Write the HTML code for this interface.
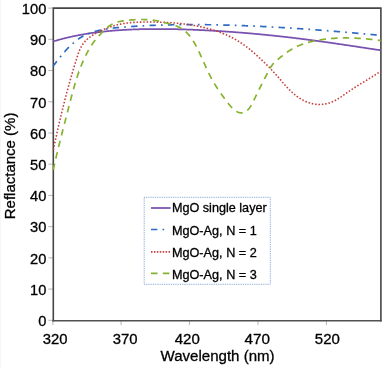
<!DOCTYPE html>
<html lang="en"><head><meta charset="utf-8"><title>Reflectance vs wavelength</title>
<style>
html,body{margin:0;padding:0;background:#fff;}
svg{display:block;font-family:"Liberation Sans", Arial, Helvetica, sans-serif;}
text{fill:#000;stroke:#000;stroke-width:0.3px;}
</style></head><body>
<svg width="382" height="367" viewBox="0 0 382 367">
<rect x="0" y="0" width="382" height="367" fill="#fff"/>

<line x1="0.3" y1="0" x2="0.3" y2="367" stroke="#ececec" stroke-width="0.6"/>
<line x1="48.3" y1="320.30" x2="53.3" y2="320.30" stroke="#a6a6a6" stroke-width="0.8"/>
<line x1="48.3" y1="289.08" x2="53.3" y2="289.08" stroke="#a6a6a6" stroke-width="0.8"/>
<line x1="48.3" y1="257.86" x2="53.3" y2="257.86" stroke="#a6a6a6" stroke-width="0.8"/>
<line x1="48.3" y1="226.64" x2="53.3" y2="226.64" stroke="#a6a6a6" stroke-width="0.8"/>
<line x1="48.3" y1="195.42" x2="53.3" y2="195.42" stroke="#a6a6a6" stroke-width="0.8"/>
<line x1="48.3" y1="164.20" x2="53.3" y2="164.20" stroke="#a6a6a6" stroke-width="0.8"/>
<line x1="48.3" y1="132.98" x2="53.3" y2="132.98" stroke="#a6a6a6" stroke-width="0.8"/>
<line x1="48.3" y1="101.76" x2="53.3" y2="101.76" stroke="#a6a6a6" stroke-width="0.8"/>
<line x1="48.3" y1="70.54" x2="53.3" y2="70.54" stroke="#a6a6a6" stroke-width="0.8"/>
<line x1="48.3" y1="39.32" x2="53.3" y2="39.32" stroke="#a6a6a6" stroke-width="0.8"/>
<line x1="48.3" y1="8.10" x2="53.3" y2="8.10" stroke="#a6a6a6" stroke-width="0.8"/>
<line x1="52.8" y1="320.3" x2="52.8" y2="325.10" stroke="#a6a6a6" stroke-width="0.8"/>
<line x1="121.1" y1="320.3" x2="121.1" y2="325.10" stroke="#a6a6a6" stroke-width="0.8"/>
<line x1="189.45" y1="320.3" x2="189.45" y2="325.10" stroke="#a6a6a6" stroke-width="0.8"/>
<line x1="258.0" y1="320.3" x2="258.0" y2="325.10" stroke="#a6a6a6" stroke-width="0.8"/>
<line x1="326.4" y1="320.3" x2="326.4" y2="325.10" stroke="#a6a6a6" stroke-width="0.8"/>
<path d="M53.3,321.55 V8.1 H380.9 V321.55" fill="none" stroke="#454545" stroke-width="1.6" stroke-linejoin="miter"/>
<line x1="52.5" y1="320.75" x2="381.7" y2="320.75" stroke="#505050" stroke-width="1.6"/>
<clipPath id="pc"><rect x="52.4" y="7.1" width="329.4" height="314.2"/></clipPath>
<g clip-path="url(#pc)" fill="none">
<path d="M53.30,41.43 L54.05,41.20 L54.79,40.98 L55.54,40.76 L56.28,40.54 L57.03,40.32 L57.78,40.11 L58.52,39.90 L59.27,39.69 L60.02,39.49 L60.76,39.28 L61.51,39.08 L62.25,38.89 L63.00,38.69 L63.75,38.50 L64.49,38.31 L65.24,38.13 L65.99,37.95 L66.73,37.76 L67.48,37.59 L68.22,37.41 L68.97,37.24 L69.72,37.07 L70.46,36.90 L71.21,36.73 L71.96,36.57 L72.70,36.41 L73.45,36.25 L74.19,36.09 L74.94,35.94 L75.69,35.79 L76.43,35.64 L77.18,35.49 L77.93,35.35 L78.67,35.20 L79.42,35.06 L80.16,34.92 L80.91,34.79 L81.66,34.65 L82.40,34.52 L83.15,34.39 L83.90,34.26 L84.64,34.14 L85.39,34.01 L86.13,33.89 L86.88,33.77 L87.63,33.65 L88.37,33.54 L89.12,33.42 L89.87,33.31 L90.61,33.20 L91.36,33.09 L92.10,32.99 L92.85,32.88 L93.60,32.78 L94.34,32.68 L95.09,32.58 L95.84,32.48 L96.58,32.38 L97.33,32.29 L98.07,32.20 L98.82,32.11 L99.57,32.02 L100.31,31.93 L101.06,31.84 L101.81,31.76 L102.55,31.67 L103.30,31.59 L104.04,31.51 L104.79,31.44 L105.54,31.36 L106.28,31.28 L107.03,31.21 L107.78,31.14 L108.52,31.07 L109.27,31.00 L110.01,30.93 L110.76,30.86 L111.51,30.80 L112.25,30.74 L113.00,30.67 L113.75,30.61 L114.49,30.55 L115.24,30.49 L115.98,30.44 L116.73,30.38 L117.48,30.33 L118.22,30.28 L118.97,30.22 L119.72,30.17 L120.46,30.12 L121.21,30.08 L121.95,30.03 L122.70,29.98 L123.45,29.94 L124.19,29.90 L124.94,29.85 L125.69,29.81 L126.43,29.77 L127.18,29.74 L127.92,29.70 L128.67,29.66 L129.42,29.63 L130.16,29.59 L130.91,29.56 L131.66,29.53 L132.40,29.50 L133.15,29.47 L133.89,29.44 L134.64,29.41 L135.39,29.38 L136.13,29.36 L136.88,29.33 L137.63,29.31 L138.37,29.29 L139.12,29.27 L139.86,29.24 L140.61,29.22 L141.36,29.21 L142.10,29.19 L142.85,29.17 L143.60,29.15 L144.34,29.14 L145.09,29.12 L145.83,29.11 L146.58,29.10 L147.33,29.09 L148.07,29.08 L148.82,29.07 L149.57,29.06 L150.31,29.05 L151.06,29.04 L151.80,29.03 L152.55,29.03 L153.30,29.02 L154.04,29.02 L154.79,29.02 L155.54,29.01 L156.28,29.01 L157.03,29.01 L157.77,29.01 L158.52,29.01 L159.27,29.01 L160.01,29.01 L160.76,29.01 L161.51,29.02 L162.25,29.02 L163.00,29.03 L163.74,29.03 L164.49,29.04 L165.24,29.04 L165.98,29.05 L166.73,29.06 L167.47,29.07 L168.22,29.08 L168.97,29.09 L169.71,29.10 L170.46,29.11 L171.21,29.12 L171.95,29.14 L172.70,29.15 L173.44,29.16 L174.19,29.18 L174.94,29.19 L175.68,29.21 L176.43,29.23 L177.18,29.24 L177.92,29.26 L178.67,29.28 L179.41,29.30 L180.16,29.32 L180.91,29.34 L181.65,29.36 L182.40,29.38 L183.15,29.40 L183.89,29.42 L184.64,29.45 L185.38,29.47 L186.13,29.50 L186.88,29.52 L187.62,29.55 L188.37,29.57 L189.12,29.60 L189.86,29.63 L190.61,29.65 L191.35,29.68 L192.10,29.71 L192.85,29.74 L193.59,29.77 L194.34,29.80 L195.09,29.83 L195.83,29.86 L196.58,29.89 L197.32,29.92 L198.07,29.96 L198.82,29.99 L199.56,30.02 L200.31,30.06 L201.06,30.09 L201.80,30.13 L202.55,30.16 L203.29,30.20 L204.04,30.24 L204.79,30.28 L205.53,30.31 L206.28,30.35 L207.03,30.39 L207.77,30.43 L208.52,30.47 L209.26,30.51 L210.01,30.55 L210.76,30.59 L211.50,30.63 L212.25,30.67 L213.00,30.72 L213.74,30.76 L214.49,30.80 L215.23,30.85 L215.98,30.89 L216.73,30.94 L217.47,30.98 L218.22,31.03 L218.97,31.07 L219.71,31.12 L220.46,31.17 L221.20,31.22 L221.95,31.26 L222.70,31.31 L223.44,31.36 L224.19,31.41 L224.94,31.46 L225.68,31.51 L226.43,31.56 L227.17,31.61 L227.92,31.67 L228.67,31.72 L229.41,31.77 L230.16,31.82 L230.91,31.88 L231.65,31.93 L232.40,31.99 L233.14,32.04 L233.89,32.10 L234.64,32.15 L235.38,32.21 L236.13,32.26 L236.88,32.32 L237.62,32.38 L238.37,32.44 L239.11,32.50 L239.86,32.55 L240.61,32.61 L241.35,32.67 L242.10,32.73 L242.85,32.79 L243.59,32.86 L244.34,32.92 L245.08,32.98 L245.83,33.04 L246.58,33.10 L247.32,33.17 L248.07,33.23 L248.82,33.29 L249.56,33.36 L250.31,33.42 L251.05,33.49 L251.80,33.55 L252.55,33.62 L253.29,33.69 L254.04,33.75 L254.79,33.82 L255.53,33.89 L256.28,33.96 L257.02,34.03 L257.77,34.10 L258.52,34.17 L259.26,34.24 L260.01,34.31 L260.76,34.38 L261.50,34.45 L262.25,34.52 L262.99,34.59 L263.74,34.67 L264.49,34.74 L265.23,34.81 L265.98,34.89 L266.73,34.96 L267.47,35.03 L268.22,35.11 L268.96,35.19 L269.71,35.26 L270.46,35.34 L271.20,35.41 L271.95,35.49 L272.69,35.57 L273.44,35.65 L274.19,35.73 L274.93,35.80 L275.68,35.88 L276.43,35.96 L277.17,36.04 L277.92,36.12 L278.66,36.21 L279.41,36.29 L280.16,36.37 L280.90,36.45 L281.65,36.53 L282.40,36.62 L283.14,36.70 L283.89,36.78 L284.63,36.87 L285.38,36.95 L286.13,37.04 L286.87,37.12 L287.62,37.21 L288.37,37.30 L289.11,37.38 L289.86,37.47 L290.60,37.56 L291.35,37.65 L292.10,37.73 L292.84,37.82 L293.59,37.91 L294.34,38.00 L295.08,38.09 L295.83,38.18 L296.57,38.27 L297.32,38.36 L298.07,38.46 L298.81,38.55 L299.56,38.64 L300.31,38.73 L301.05,38.83 L301.80,38.92 L302.54,39.01 L303.29,39.11 L304.04,39.20 L304.78,39.30 L305.53,39.39 L306.28,39.49 L307.02,39.59 L307.77,39.68 L308.51,39.78 L309.26,39.88 L310.01,39.97 L310.75,40.07 L311.50,40.17 L312.25,40.27 L312.99,40.37 L313.74,40.47 L314.48,40.57 L315.23,40.67 L315.98,40.77 L316.72,40.87 L317.47,40.97 L318.22,41.07 L318.96,41.17 L319.71,41.27 L320.45,41.38 L321.20,41.48 L321.95,41.58 L322.69,41.68 L323.44,41.79 L324.19,41.89 L324.93,42.00 L325.68,42.10 L326.42,42.21 L327.17,42.31 L327.92,42.42 L328.66,42.52 L329.41,42.63 L330.16,42.73 L330.90,42.84 L331.65,42.95 L332.39,43.06 L333.14,43.16 L333.89,43.27 L334.63,43.38 L335.38,43.49 L336.13,43.59 L336.87,43.70 L337.62,43.81 L338.36,43.92 L339.11,44.03 L339.86,44.14 L340.60,44.25 L341.35,44.36 L342.10,44.47 L342.84,44.58 L343.59,44.69 L344.33,44.80 L345.08,44.91 L345.83,45.02 L346.57,45.14 L347.32,45.25 L348.07,45.36 L348.81,45.47 L349.56,45.58 L350.30,45.69 L351.05,45.81 L351.80,45.92 L352.54,46.03 L353.29,46.14 L354.04,46.26 L354.78,46.37 L355.53,46.48 L356.27,46.60 L357.02,46.71 L357.77,46.82 L358.51,46.93 L359.26,47.05 L360.01,47.16 L360.75,47.27 L361.50,47.39 L362.24,47.50 L362.99,47.62 L363.74,47.73 L364.48,47.84 L365.23,47.96 L365.98,48.07 L366.72,48.18 L367.47,48.30 L368.21,48.41 L368.96,48.52 L369.71,48.64 L370.45,48.75 L371.20,48.86 L371.95,48.98 L372.69,49.09 L373.44,49.20 L374.18,49.32 L374.93,49.43 L375.68,49.54 L376.42,49.65 L377.17,49.77 L377.92,49.88 L378.66,49.99 L379.41,50.10 L380.15,50.21 L380.90,50.32" stroke="#7952AF" stroke-width="1.75" stroke-linejoin="round"/>
<path d="M53.30,65.91 L53.76,65.31 L54.21,64.72 L54.67,64.12 L55.12,63.52 L55.58,62.93 L56.04,62.33 L56.50,61.73 L56.94,61.16 M60.10,57.15 L60.21,57.00 L60.68,56.42 L61.15,55.84 M64.54,51.82 L64.55,51.82 L65.05,51.25 L65.55,50.69 L66.05,50.13 L66.56,49.58 L67.07,49.03 L67.59,48.48 L68.11,47.94 L68.63,47.40 L68.90,47.13 M72.59,43.62 L72.99,43.26 L73.56,42.77 L73.86,42.51 M78.01,39.28 L78.30,39.07 L78.92,38.65 L79.54,38.23 L80.18,37.82 L80.81,37.42 L81.46,37.04 L82.11,36.66 L82.76,36.29 L83.42,35.93 L83.45,35.92 M88.07,33.77 L88.19,33.72 L88.89,33.44 L89.59,33.17 L89.63,33.16 M94.63,31.53 L95.32,31.33 L96.04,31.14 L96.77,30.95 L97.50,30.77 L98.23,30.59 L98.96,30.42 L99.70,30.26 L100.43,30.10 L100.85,30.01 M105.87,29.10 L106.35,29.02 L107.09,28.91 L107.53,28.84 M112.74,28.15 L113.05,28.11 L113.80,28.02 L114.54,27.94 L115.29,27.86 L116.04,27.78 L116.79,27.71 L117.53,27.63 L118.28,27.56 L119.03,27.49 L119.11,27.49 M124.19,27.05 L124.27,27.05 L125.02,26.99 L125.77,26.93 L125.86,26.92 M131.11,26.54 L131.77,26.50 L132.52,26.44 L133.27,26.39 L134.02,26.34 L134.77,26.30 L135.52,26.25 L136.27,26.20 L137.02,26.16 L137.49,26.13 M142.59,25.84 L143.02,25.81 L143.77,25.77 L144.26,25.75 M149.52,25.50 L149.78,25.48 L150.53,25.45 L151.28,25.42 L152.03,25.39 L152.78,25.36 L153.53,25.33 L154.29,25.30 L155.04,25.27 L155.79,25.24 L155.91,25.23 M161.01,25.06 L161.05,25.06 L161.80,25.04 L162.55,25.02 L162.69,25.01 M167.95,24.87 L168.56,24.86 L169.31,24.84 L170.06,24.83 L170.82,24.81 L171.57,24.80 L172.32,24.78 L173.07,24.77 L173.82,24.76 L174.35,24.75 M179.45,24.68 L179.83,24.68 L180.59,24.67 L181.12,24.66 M186.38,24.63 L186.60,24.63 L187.35,24.62 L188.10,24.62 L188.85,24.62 L189.61,24.62 L190.36,24.62 L191.11,24.62 L191.86,24.62 L192.61,24.62 L192.78,24.62 M197.88,24.64 L198.62,24.64 L199.38,24.65 L199.56,24.65 M204.82,24.70 L205.39,24.70 L206.14,24.71 L206.89,24.72 L207.64,24.73 L208.40,24.74 L209.15,24.75 L209.90,24.76 L210.65,24.78 L211.22,24.79 M216.32,24.88 L216.66,24.88 L217.41,24.90 L218.00,24.91 M223.26,25.03 L223.43,25.04 L224.18,25.06 L224.93,25.08 L225.68,25.09 L226.43,25.11 L227.18,25.14 L227.93,25.16 L228.69,25.18 L229.44,25.20 L229.66,25.21 M234.76,25.36 L235.45,25.38 L236.20,25.41 L236.44,25.42 M241.69,25.60 L242.21,25.62 L242.96,25.65 L243.71,25.68 L244.46,25.71 L245.21,25.74 L245.96,25.77 L246.71,25.80 L247.47,25.83 L248.09,25.85 M253.18,26.07 L253.47,26.08 L254.22,26.11 L254.86,26.14 M260.12,26.39 L260.23,26.39 L260.98,26.43 L261.73,26.46 L262.48,26.50 L263.23,26.54 L263.98,26.58 L264.74,26.61 L265.49,26.65 L266.24,26.69 L266.51,26.70 M271.60,26.97 L272.24,27.01 L272.99,27.05 L273.28,27.06 M278.53,27.36 L279.00,27.39 L279.75,27.43 L280.50,27.48 L281.25,27.52 L282.00,27.56 L282.75,27.61 L283.50,27.65 L284.25,27.70 L284.92,27.74 M290.01,28.06 L290.25,28.07 L291.00,28.12 L291.69,28.17 M296.93,28.51 L297.00,28.51 L297.75,28.56 L298.50,28.61 L299.25,28.67 L300.00,28.72 L300.75,28.77 L301.50,28.82 L302.25,28.87 L303.00,28.92 L303.32,28.95 M308.41,29.30 L309.00,29.35 L309.75,29.40 L310.08,29.43 M315.33,29.81 L315.74,29.84 L316.49,29.90 L317.24,29.96 L317.99,30.01 L318.74,30.07 L319.49,30.13 L320.24,30.18 L320.99,30.24 L321.71,30.30 M326.79,30.69 L326.99,30.71 L327.74,30.77 L328.47,30.82 M333.71,31.25 L333.73,31.25 L334.48,31.31 L335.23,31.37 L335.98,31.43 L336.73,31.49 L337.47,31.55 L338.22,31.62 L338.97,31.68 L339.72,31.74 L340.09,31.77 M345.17,32.20 L345.71,32.25 L346.46,32.31 L346.85,32.34 M352.09,32.79 L352.45,32.83 L353.20,32.89 L353.95,32.96 L354.70,33.02 L355.45,33.09 L356.20,33.15 L356.95,33.22 L357.70,33.29 L358.44,33.35 L358.46,33.36 M363.54,33.81 L363.68,33.82 L364.43,33.89 L365.18,33.96 L365.22,33.96 M370.45,34.44 L371.17,34.50 L371.92,34.57 L372.67,34.64 L373.42,34.71 L374.16,34.78 L374.91,34.85 L375.66,34.92 L376.41,34.99 L376.83,35.03" stroke="#2D6BC5" stroke-width="1.68"/>
<path d="M53.30,149.81 L53.46,149.07 L53.60,148.41 M53.99,146.60 L54.09,146.13 L54.25,145.40 L54.32,145.07 M54.71,143.27 L54.73,143.19 L54.89,142.46 L55.04,141.74 M55.44,139.94 L55.53,139.52 L55.69,138.79 L55.77,138.41 M56.17,136.60 L56.18,136.58 L56.34,135.85 L56.51,135.12 L56.51,135.08 M56.92,133.27 L57.00,132.91 L57.16,132.18 L57.26,131.75 M57.67,129.93 L57.83,129.25 L57.99,128.51 L58.02,128.41 M58.43,126.60 L58.50,126.31 L58.67,125.58 L58.78,125.08 M59.20,123.27 L59.35,122.65 L59.52,121.92 L59.56,121.75 M59.98,119.94 L60.03,119.72 L60.21,118.99 L60.34,118.42 M60.77,116.62 L60.90,116.06 L61.08,115.33 L61.13,115.10 M61.57,113.29 L61.60,113.14 L61.78,112.41 L61.93,111.78 M62.38,109.97 L62.49,109.48 L62.67,108.75 L62.75,108.46 M63.19,106.65 L63.22,106.56 L63.40,105.83 L63.57,105.14 M64.03,103.34 L64.13,102.92 L64.32,102.19 L64.41,101.83 M64.87,100.03 L64.87,100.00 L65.06,99.27 L65.25,98.55 L65.26,98.52 M65.72,96.72 L65.81,96.36 L66.00,95.63 L66.12,95.21 M66.59,93.41 L66.77,92.72 L66.96,92.00 L66.99,91.90 M67.47,90.11 L67.55,89.82 L67.74,89.09 L67.88,88.60 M68.36,86.81 L68.53,86.19 L68.73,85.46 L68.78,85.30 M69.27,83.51 L69.33,83.29 L69.53,82.57 L69.69,82.01 M70.19,80.22 L70.35,79.67 L70.55,78.95 L70.62,78.72 M71.13,76.94 L71.18,76.78 L71.38,76.05 L71.56,75.44 M72.08,73.65 L72.23,73.17 L72.44,72.45 L72.52,72.16 M73.05,70.38 L73.08,70.28 L73.30,69.56 L73.50,68.88 M74.04,67.10 L74.16,66.68 L74.38,65.96 L74.49,65.61 M75.03,63.83 L75.04,63.80 L75.26,63.08 L75.48,62.37 L75.49,62.34 M76.03,60.56 L76.14,60.21 L76.36,59.49 L76.48,59.07 M77.03,57.30 L77.25,56.62 L77.48,55.90 L77.51,55.81 M78.11,54.05 L78.21,53.76 L78.46,53.06 L78.63,52.58 M79.31,50.85 L79.56,50.26 L79.86,49.57 L79.93,49.42 M80.72,47.74 L80.83,47.53 L81.18,46.86 L81.46,46.37 M82.42,44.77 L82.73,44.29 L83.17,43.67 L83.30,43.49 M84.43,42.07 L84.57,41.91 L85.07,41.34 L85.47,40.91 M86.75,39.66 L87.21,39.24 L87.78,38.74 L87.92,38.62 M89.31,37.50 L89.54,37.33 L90.14,36.89 L90.57,36.58 M92.05,35.58 L92.64,35.21 L93.28,34.81 L93.38,34.75 M94.92,33.84 L95.22,33.67 L95.88,33.30 L96.28,33.08 M97.87,32.25 L97.87,32.24 L98.54,31.90 L99.21,31.56 L99.26,31.54 M100.87,30.76 L101.24,30.58 L101.93,30.26 L102.28,30.10 M103.92,29.37 L103.99,29.34 L104.68,29.05 L105.36,28.76 M107.02,28.09 L107.46,27.92 L108.17,27.65 L108.47,27.53 M110.16,26.93 L110.29,26.88 L111.00,26.64 L111.64,26.43 M113.35,25.89 L113.87,25.73 L114.59,25.52 L114.84,25.45 M116.57,24.99 L116.77,24.93 L117.50,24.75 L118.09,24.61 M119.84,24.23 L120.44,24.10 L121.17,23.96 L121.37,23.92 M123.13,23.60 L123.39,23.56 L124.14,23.44 L124.67,23.36 M126.45,23.11 L127.12,23.02 L127.86,22.93 L128.00,22.92 M129.79,22.73 L130.11,22.70 L130.85,22.63 L131.34,22.59 M133.14,22.44 L133.85,22.40 L134.60,22.35 L134.69,22.34 M136.49,22.25 L136.86,22.23 L137.61,22.20 L138.05,22.18 M139.85,22.12 L139.86,22.12 L140.62,22.10 L141.37,22.08 L141.41,22.08 M143.21,22.05 L143.62,22.05 L144.38,22.04 L144.77,22.03 M146.57,22.02 L146.63,22.02 L147.38,22.02 L148.13,22.02 M149.92,22.03 L150.39,22.03 L151.14,22.03 L151.48,22.04 M153.28,22.06 L153.40,22.06 L154.15,22.07 L154.84,22.08 M156.64,22.11 L157.16,22.12 L157.91,22.14 L158.20,22.15 M160.00,22.20 L160.17,22.20 L160.92,22.23 L161.56,22.25 M163.36,22.32 L163.92,22.34 L164.68,22.37 L164.92,22.39 M166.72,22.47 L166.93,22.49 L167.68,22.53 L168.27,22.56 M170.07,22.67 L170.68,22.71 L171.43,22.76 L171.63,22.77 M173.42,22.90 L173.68,22.92 L174.43,22.98 L174.98,23.03 M176.78,23.19 L177.43,23.25 L178.18,23.32 L178.33,23.33 M180.13,23.51 L180.42,23.54 L181.17,23.63 L181.68,23.68 M183.47,23.89 L184.16,23.98 L184.90,24.07 L185.02,24.08 M186.81,24.32 L187.14,24.37 L187.88,24.47 L188.36,24.54 M190.15,24.81 L190.86,24.92 L191.60,25.04 L191.69,25.05 M193.47,25.35 L193.83,25.42 L194.57,25.55 L195.00,25.63 M196.78,25.96 L196.79,25.96 L197.52,26.10 L198.26,26.25 L198.31,26.26 M200.08,26.63 L200.47,26.71 L201.20,26.87 L201.60,26.96 M203.37,27.36 L203.40,27.37 L204.14,27.55 L204.87,27.72 L204.88,27.73 M206.64,28.17 L207.05,28.27 L207.78,28.47 L208.15,28.56 M209.89,29.04 L209.96,29.06 L210.68,29.27 L211.39,29.47 M213.12,29.99 L213.56,30.13 L214.28,30.36 L214.61,30.46 M216.32,31.02 L216.42,31.06 L217.14,31.30 L217.80,31.53 M219.50,32.14 L219.97,32.31 L220.67,32.57 L220.96,32.68 M222.65,33.34 L222.78,33.39 L223.47,33.67 L224.09,33.92 M225.76,34.63 L226.24,34.84 L226.93,35.15 L227.19,35.26 M228.84,36.03 L228.98,36.09 L229.66,36.42 L230.24,36.70 M231.87,37.52 L232.35,37.77 L233.01,38.11 L233.25,38.24 M234.85,39.12 L235.00,39.20 L235.65,39.57 L236.21,39.89 M237.77,40.82 L238.24,41.10 L238.87,41.50 L239.10,41.64 M240.63,42.63 L240.77,42.72 L241.40,43.14 L241.92,43.49 M243.42,44.53 L243.87,44.85 L244.48,45.29 L244.68,45.44 M246.14,46.53 L246.29,46.64 L246.89,47.09 L247.38,47.48 M248.81,48.60 L249.25,48.95 L249.84,49.42 L250.03,49.58 M251.43,50.74 L251.58,50.86 L252.15,51.34 L252.63,51.74 M254.00,52.93 L254.43,53.31 L255.00,53.80 L255.18,53.96 M256.53,55.17 L256.68,55.31 L257.24,55.81 L257.69,56.22 M259.03,57.45 L259.45,57.85 L260.00,58.36 L260.17,58.52 M261.49,59.77 L261.64,59.91 L262.19,60.43 L262.62,60.85 M263.93,62.11 L264.35,62.52 L264.89,63.05 L265.04,63.20 M266.34,64.48 L266.49,64.63 L267.02,65.17 L267.44,65.59 M268.72,66.88 L269.13,67.31 L269.66,67.85 L269.80,68.00 M271.06,69.32 L271.22,69.48 L271.73,70.02 L272.13,70.45 M273.38,71.78 L273.79,72.22 L274.30,72.78 L274.43,72.93 M275.65,74.28 L275.81,74.45 L276.31,75.01 L276.69,75.44 M277.90,76.80 L278.30,77.27 L278.79,77.83 L278.92,77.98 M280.11,79.36 L280.26,79.54 L280.75,80.12 L281.12,80.55 M282.31,81.93 L282.71,82.40 L283.21,82.97 L283.33,83.11 M284.53,84.48 L284.69,84.66 L285.19,85.23 L285.56,85.64 M286.79,86.99 L287.21,87.45 L287.73,88.00 L287.85,88.13 M289.11,89.44 L289.29,89.63 L289.82,90.16 L290.21,90.55 M291.53,91.81 L291.99,92.24 L292.55,92.75 L292.68,92.86 M294.05,94.06 L294.25,94.23 L294.83,94.71 L295.26,95.05 M296.70,96.16 L297.22,96.54 L297.83,96.98 L297.96,97.07 M299.48,98.08 L299.71,98.23 L300.35,98.63 L300.80,98.90 M302.38,99.80 L302.96,100.11 L303.63,100.46 L303.76,100.53 M305.40,101.30 L305.67,101.42 L306.36,101.72 L306.84,101.92 M308.54,102.56 L309.17,102.78 L309.89,103.01 L310.02,103.05 M311.77,103.53 L312.06,103.61 L312.80,103.77 L313.29,103.87 M315.08,104.18 L315.76,104.27 L316.51,104.35 L316.63,104.36 M318.44,104.47 L318.76,104.48 L319.51,104.49 L320.00,104.48 M321.82,104.39 L322.52,104.33 L323.26,104.25 L323.37,104.24 M325.16,103.96 L325.49,103.90 L326.23,103.75 L326.69,103.65 M328.45,103.20 L329.14,102.99 L329.86,102.76 L329.94,102.73 M331.65,102.11 L331.97,101.98 L332.67,101.69 L333.08,101.51 M334.72,100.72 L335.37,100.38 L336.03,100.02 L336.10,99.98 M337.66,99.06 L337.97,98.87 L338.60,98.46 L338.97,98.22 M340.48,97.20 L341.10,96.78 L341.71,96.34 L341.76,96.31 M343.24,95.26 L343.55,95.04 L344.17,94.61 L344.52,94.36 M346.01,93.32 L346.02,93.32 L346.64,92.89 L347.26,92.47 L347.30,92.44 M348.80,91.42 L349.13,91.20 L349.75,90.78 L350.09,90.55 M351.61,89.55 L351.63,89.53 L352.26,89.12 L352.89,88.71 L352.91,88.69 M354.44,87.71 L354.79,87.49 L355.42,87.08 L355.76,86.87 M357.29,85.90 L357.33,85.88 L357.97,85.48 L358.61,85.09 L358.62,85.08 M360.16,84.13 L360.53,83.90 L361.17,83.51 L361.49,83.31 M363.05,82.37 L363.09,82.34 L363.74,81.95 L364.38,81.56 M365.93,80.61 L366.31,80.39 L366.95,79.99 L367.27,79.80 M368.82,78.86 L368.88,78.82 L369.52,78.43 L370.15,78.04 M371.69,77.09 L372.08,76.85 L372.72,76.45 L373.01,76.26 M374.55,75.29 L374.62,75.25 L375.26,74.84 L375.87,74.45 M377.39,73.46 L377.78,73.20 L378.41,72.79 L378.69,72.60 M380.20,71.58 L380.28,71.53 L380.90,71.10" stroke="#C4403C" stroke-width="1.58"/>
<path d="M53.30,169.80 L53.46,169.07 L53.62,168.33 L53.77,167.60 L53.93,166.86 L54.09,166.13 L54.26,165.40 L54.42,164.66 L54.58,163.93 L54.65,163.62 M55.82,158.50 L55.91,158.07 L56.08,157.34 L56.25,156.61 L56.43,155.87 L56.60,155.14 L56.77,154.41 L56.94,153.68 L57.12,152.95 L57.29,152.22 L57.30,152.17 M58.55,147.04 L58.71,146.38 L58.89,145.65 L59.07,144.92 L59.25,144.19 L59.43,143.46 L59.61,142.73 L59.79,142.00 L59.98,141.28 L60.11,140.73 M61.44,135.47 L61.45,135.45 L61.63,134.72 L61.82,133.99 L62.01,133.27 L62.19,132.54 L62.38,131.81 L62.57,131.08 L62.75,130.36 L62.94,129.63 L63.06,129.17 M64.42,123.92 L64.44,123.81 L64.63,123.08 L64.82,122.36 L65.01,121.63 L65.20,120.90 L65.39,120.17 L65.58,119.45 L65.77,118.72 L65.96,117.99 L66.05,117.63 M67.42,112.38 L67.47,112.18 L67.66,111.45 L67.85,110.72 L68.03,110.00 L68.22,109.27 L68.41,108.54 L68.60,107.81 L68.79,107.09 L68.97,106.36 L69.05,106.08 M70.40,100.83 L70.47,100.54 L70.66,99.81 L70.85,99.09 L71.04,98.36 L71.23,97.63 L71.42,96.90 L71.61,96.18 L71.80,95.45 L71.99,94.73 L72.04,94.54 M73.46,89.30 L73.56,88.92 L73.77,88.20 L73.97,87.48 L74.17,86.76 L74.38,86.03 L74.59,85.31 L74.80,84.59 L75.01,83.87 L75.22,83.15 L75.25,83.05 M76.85,77.87 L77.00,77.41 L77.23,76.69 L77.46,75.98 L77.70,75.27 L77.94,74.55 L78.18,73.84 L78.43,73.13 L78.67,72.42 L78.92,71.71 L78.93,71.71 M80.82,66.63 L81.03,66.09 L81.31,65.39 L81.59,64.69 L81.88,64.00 L82.16,63.30 L82.46,62.61 L82.75,61.92 L83.05,61.23 L83.32,60.63 M85.62,55.71 L85.92,55.11 L86.26,54.44 L86.60,53.77 L86.95,53.11 L87.30,52.44 L87.66,51.78 L88.02,51.12 L88.38,50.46 L88.66,49.97 M91.46,45.32 L91.47,45.31 L91.88,44.68 L92.30,44.06 L92.73,43.44 L93.16,42.83 L93.60,42.22 L94.05,41.62 L94.50,41.02 L94.97,40.43 L95.27,40.06 M98.85,35.99 L98.93,35.91 L99.43,35.35 L99.94,34.80 L100.45,34.24 L100.96,33.69 L101.47,33.14 L101.99,32.60 L102.50,32.05 L103.03,31.52 L103.30,31.24 M107.22,27.61 L107.43,27.43 L108.02,26.96 L108.61,26.50 L109.22,26.05 L109.83,25.62 L110.46,25.21 L111.09,24.81 L111.74,24.43 L112.40,24.07 L112.59,23.97 M117.52,22.03 L117.99,21.89 L118.71,21.70 L119.44,21.52 L120.18,21.35 L120.91,21.20 L121.65,21.06 L122.39,20.93 L123.13,20.82 L123.87,20.71 M129.14,20.13 L129.85,20.07 L130.60,20.01 L131.35,19.95 L132.10,19.89 L132.85,19.84 L133.60,19.79 L134.35,19.75 L135.10,19.70 L135.63,19.68 M140.93,19.52 L141.10,19.52 L141.85,19.51 L142.60,19.51 L143.36,19.52 L144.11,19.54 L144.86,19.55 L145.61,19.58 L146.36,19.61 L147.11,19.64 L147.43,19.66 M152.68,20.11 L153.10,20.16 L153.84,20.26 L154.58,20.36 L155.33,20.47 L156.07,20.60 L156.81,20.73 L157.55,20.87 L158.28,21.02 L159.02,21.17 L159.09,21.19 M164.16,22.46 L164.85,22.63 L165.57,22.82 L166.30,23.00 L167.03,23.19 L167.76,23.38 L168.48,23.57 L169.21,23.76 L169.93,23.96 L170.45,24.11 M175.43,25.70 L175.66,25.79 L176.36,26.06 L177.05,26.34 L177.75,26.63 L178.43,26.94 L179.11,27.26 L179.78,27.60 L180.44,27.95 L181.10,28.32 L181.31,28.45 M185.63,31.65 L185.91,31.90 L186.46,32.41 L187.00,32.94 L187.52,33.47 L188.04,34.02 L188.54,34.58 L189.03,35.15 L189.51,35.73 L189.98,36.31 L190.05,36.41 M193.15,40.84 L193.40,41.25 L193.79,41.89 L194.18,42.54 L194.56,43.19 L194.93,43.84 L195.29,44.50 L195.65,45.15 L196.01,45.82 L196.36,46.48 L196.36,46.49 M198.77,51.34 L199.02,51.87 L199.34,52.55 L199.66,53.23 L199.98,53.91 L200.29,54.59 L200.61,55.27 L200.92,55.96 L201.23,56.64 L201.50,57.24 M203.72,62.18 L204.00,62.81 L204.31,63.49 L204.62,64.18 L204.93,64.86 L205.24,65.55 L205.55,66.23 L205.86,66.91 L206.17,67.60 L206.40,68.10 M208.71,73.00 L208.72,73.04 L209.05,73.71 L209.39,74.39 L209.72,75.06 L210.06,75.73 L210.40,76.40 L210.74,77.07 L211.09,77.73 L211.44,78.40 L211.65,78.79 M214.32,83.51 L214.39,83.63 L214.78,84.27 L215.17,84.92 L215.57,85.55 L215.97,86.19 L216.37,86.82 L216.78,87.45 L217.19,88.08 L217.60,88.71 L217.80,89.00 M220.87,93.46 L221.01,93.66 L221.45,94.27 L221.88,94.88 L222.32,95.49 L222.76,96.10 L223.20,96.71 L223.64,97.32 L224.09,97.93 L224.53,98.53 L224.67,98.73 M227.92,103.06 L228.14,103.33 L228.61,103.92 L229.09,104.50 L229.57,105.07 L230.07,105.64 L230.57,106.20 L231.07,106.76 L231.59,107.30 L232.12,107.84 L232.21,107.93 M236.41,111.33 L236.81,111.56 L237.48,111.90 L238.17,112.20 L238.88,112.44 L239.60,112.64 L240.34,112.78 L241.09,112.86 L241.84,112.86 L242.58,112.80 L242.62,112.79 M247.34,110.29 L247.74,109.91 L248.27,109.38 L248.77,108.82 L249.25,108.24 L249.70,107.64 L250.14,107.03 L250.56,106.41 L250.96,105.77 L251.31,105.18 M253.81,100.37 L254.09,99.78 L254.42,99.11 L254.74,98.43 L255.06,97.75 L255.39,97.07 L255.72,96.40 L256.04,95.72 L256.37,95.04 L256.63,94.51 M259.02,89.63 L259.35,88.98 L259.69,88.30 L260.02,87.63 L260.36,86.96 L260.69,86.29 L261.03,85.62 L261.37,84.95 L261.71,84.28 L261.94,83.82 M264.41,78.99 L264.44,78.92 L264.79,78.26 L265.13,77.59 L265.48,76.92 L265.82,76.26 L266.17,75.59 L266.52,74.92 L266.87,74.26 L267.21,73.59 L267.41,73.22 M269.98,68.44 L270.06,68.30 L270.45,67.65 L270.84,67.02 L271.25,66.38 L271.67,65.76 L272.11,65.15 L272.56,64.55 L273.03,63.97 L273.53,63.41 L273.75,63.17 M277.69,59.59 L277.97,59.36 L278.54,58.88 L279.12,58.40 L279.70,57.93 L280.29,57.45 L280.87,56.98 L281.46,56.51 L282.04,56.04 L282.63,55.57 L282.74,55.49 M286.93,52.36 L287.46,51.99 L288.08,51.57 L288.70,51.15 L289.33,50.73 L289.96,50.33 L290.59,49.93 L291.24,49.54 L291.88,49.15 L292.40,48.85 M297.05,46.46 L297.21,46.38 L297.90,46.07 L298.58,45.77 L299.28,45.48 L299.97,45.19 L300.67,44.91 L301.37,44.64 L302.07,44.38 L302.78,44.13 L303.07,44.02 M308.03,42.46 L308.51,42.33 L309.24,42.13 L309.96,41.94 L310.69,41.76 L311.42,41.58 L312.15,41.41 L312.89,41.24 L313.62,41.08 L314.34,40.93 M319.44,39.98 L319.52,39.96 L320.27,39.85 L321.01,39.73 L321.75,39.62 L322.49,39.51 L323.24,39.41 L323.98,39.31 L324.73,39.21 L325.47,39.12 L325.88,39.07 M331.04,38.55 L331.45,38.52 L332.20,38.46 L332.95,38.40 L333.70,38.35 L334.45,38.30 L335.20,38.25 L335.95,38.21 L336.70,38.17 L337.45,38.14 L337.52,38.14 M342.69,37.98 L342.71,37.98 L343.46,37.97 L344.21,37.96 L344.96,37.96 L345.71,37.95 L346.46,37.96 L347.21,37.96 L347.96,37.97 L348.71,37.98 L349.19,37.98 M354.36,38.13 L354.72,38.15 L355.47,38.18 L356.22,38.21 L356.97,38.25 L357.72,38.29 L358.47,38.33 L359.22,38.38 L359.97,38.42 L360.72,38.47 L360.85,38.48 M366.02,38.88 L366.71,38.94 L367.46,39.01 L368.21,39.07 L368.96,39.14 L369.71,39.22 L370.45,39.29 L371.20,39.37 L371.95,39.45 L372.49,39.50 M377.81,40.11 L377.92,40.12 L378.66,40.22 L379.41,40.31 L380.15,40.40 L380.90,40.50" stroke="#86B22E" stroke-width="1.68"/>
</g>
<text x="46.3" y="326.05" font-size="14.67" text-anchor="end">0</text>
<text x="46.3" y="294.83" font-size="14.67" text-anchor="end">10</text>
<text x="46.3" y="263.61" font-size="14.67" text-anchor="end">20</text>
<text x="46.3" y="232.39" font-size="14.67" text-anchor="end">30</text>
<text x="46.3" y="201.17" font-size="14.67" text-anchor="end">40</text>
<text x="46.3" y="169.95" font-size="14.67" text-anchor="end">50</text>
<text x="46.3" y="138.73" font-size="14.67" text-anchor="end">60</text>
<text x="46.3" y="107.51" font-size="14.67" text-anchor="end">70</text>
<text x="46.3" y="76.29" font-size="14.67" text-anchor="end">80</text>
<text x="46.3" y="45.07" font-size="14.67" text-anchor="end">90</text>
<text x="46.3" y="13.85" font-size="14.67" text-anchor="end">100</text>
<text x="42.8" y="343.5" font-size="14.67" textLength="24.8" lengthAdjust="spacingAndGlyphs">320</text>
<text x="112.7" y="343.5" font-size="14.67" textLength="24.8" lengthAdjust="spacingAndGlyphs">370</text>
<text x="174.7" y="343.5" font-size="14.67" textLength="25.1" lengthAdjust="spacingAndGlyphs">420</text>
<text x="244.5" y="343.5" font-size="14.67" textLength="25.5" lengthAdjust="spacingAndGlyphs">470</text>
<text x="314.8" y="343.5" font-size="14.67" textLength="25.1" lengthAdjust="spacingAndGlyphs">520</text>
<text x="160.6" y="360.8" font-size="15.05" textLength="114" lengthAdjust="spacingAndGlyphs">Wavelength (nm)</text>
<text transform="translate(14.9,219.2) rotate(-90)" font-size="15.05" textLength="106.6" lengthAdjust="spacingAndGlyphs">Reflactance (%)</text>
<rect x="144.2" y="197.3" width="126.1" height="87.0" fill="#fff" stroke="#6f97d6" stroke-width="0.9" stroke-dasharray="0.9 0.9"/>
<line x1="151" y1="208.0" x2="170.6" y2="208.0" stroke="#7952AF" stroke-width="1.75"/>
<text x="171.9" y="212.4" font-size="12.8" textLength="94.8" lengthAdjust="spacingAndGlyphs">MgO single layer</text>
<line x1="151" y1="229.5" x2="169" y2="229.5" stroke="#2D6BC5" stroke-width="1.68" stroke-dasharray="6.4 5.1 1.68 5.26"/>
<text x="171.9" y="234.9" font-size="12.8" textLength="84.9" lengthAdjust="spacingAndGlyphs">MgO-Ag, N = 1</text>
<line x1="151" y1="251.9" x2="170.6" y2="251.9" stroke="#C4403C" stroke-width="1.58" stroke-dasharray="1.5 1.42"/>
<text x="171.9" y="256.7" font-size="12.8" textLength="84.9" lengthAdjust="spacingAndGlyphs">MgO-Ag, N = 2</text>
<line x1="151" y1="273.4" x2="170.6" y2="273.4" stroke="#86B22E" stroke-width="1.68" stroke-dasharray="6.5 5.35"/>
<text x="171.9" y="278.5" font-size="12.8" textLength="84.9" lengthAdjust="spacingAndGlyphs">MgO-Ag, N = 3</text>
</svg></body></html>
